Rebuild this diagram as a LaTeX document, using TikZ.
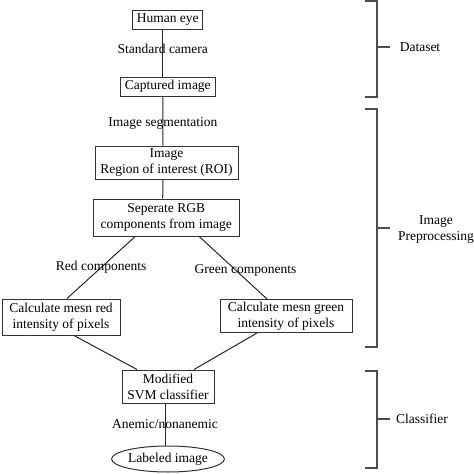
\documentclass[tikz,border=0pt]{standalone}
\usepackage{fontspec}
\setmainfont{Liberation Serif}
\usetikzlibrary{shapes,calc,positioning}
\tikzset{
	blk/.style={draw=black!80, line width=1pt, align=center, inner sep=1pt, font=\fontsize{13.5}{16}\selectfont},
	lbl/.style={font=\fontsize{13.5}{16}\selectfont, inner sep=1pt},
	wire/.style={draw=black!85, line width=1pt},
	brace/.style={draw=black!70, line width=1.3pt},
}
\begin{document}
\begin{tikzpicture}[x=1pt,y=-1pt]
	\useasboundingbox (0,0) rectangle (474,474);
	% flow
	\node [blk, minimum width=70pt, minimum height=19pt] (eye) at (167.8,19.5) {Human eye};
	\node [blk, minimum width=95pt, minimum height=19pt] (cap) at (167.8,86.5) {Captured image};
	\node [blk, minimum width=143pt, minimum height=33pt] (roi) at (166.5,162.5) {Image\\ Region of interest (ROI)};
	\node [blk, minimum width=146pt, minimum height=37pt] (rgb) at (166.2,217.5) {Seperate RGB\\components from image};
	\node [blk, minimum width=118pt, minimum height=36pt] (red) at (61,317) {Calculate mesn red\\intensity of pixels};
	\node [blk, minimum width=132pt, minimum height=33pt] (green) at (286,316) {Calculate mesn green\\intensity of pixels};
	\node [blk, minimum width=92pt, minimum height=33pt] (svm) at (168,386.5) {Modified\\SVM classifier};
	\node [blk, ellipse, minimum width=100pt, minimum height=26pt, inner sep=0pt] (lab) at (168,459) {Labeled image};
	\draw [wire] ([xshift=-5pt]eye.south) -- node[lbl, pos=.42]{Standard camera} ([xshift=-5pt]cap.north);
	\draw [wire] ([xshift=-5pt]cap.south) -- node[lbl, pos=.56]{Image segmentation} ([xshift=-3.5pt]roi.north);
	\draw [wire] ([xshift=-3.5pt]roi.south) -- ([xshift=-3.5pt]rgb.north);
	\draw [wire] ([xshift=-31pt]rgb.south) -- node[lbl]{Red components} ([xshift=6pt]red.north);
	\draw [wire] ([xshift=33pt]rgb.south) -- node[lbl, pos=.55, xshift=9pt]{Green components} ([xshift=-19pt]green.north);
	\draw [wire] ([xshift=13pt]red.south) -- ([xshift=-31pt]svm.north);
	\draw [wire] ([xshift=-29pt]green.south) -- ([xshift=26pt]svm.north);
	\draw [wire] ([xshift=-3pt]svm.south) -- node[lbl]{Anemic/nonanemic} ([xshift=-3pt]lab.north);
	% stages
	\draw [brace] (365,1) -- ++(12,0) -- ++(0,96) -- ++(-12,0) (377,47) -- ++(13,0);
	\node [lbl] (dset) at (420,47) {Dataset};
	\draw [brace] (365,109) -- ++(12,0) -- ++(0,238) -- ++(-12,0) (377,228) -- ++(13,0);
	\node [lbl, align=center] (prep) at (436,229.5) {Image\\Preprocessing};
	\draw [brace] (365,371) -- ++(12,0) -- ++(0,97) -- ++(-12,0) (377,419) -- ++(13,0);
	\node [lbl] (clf) at (422,419) {Classifier};
\end{tikzpicture}
\end{document}
